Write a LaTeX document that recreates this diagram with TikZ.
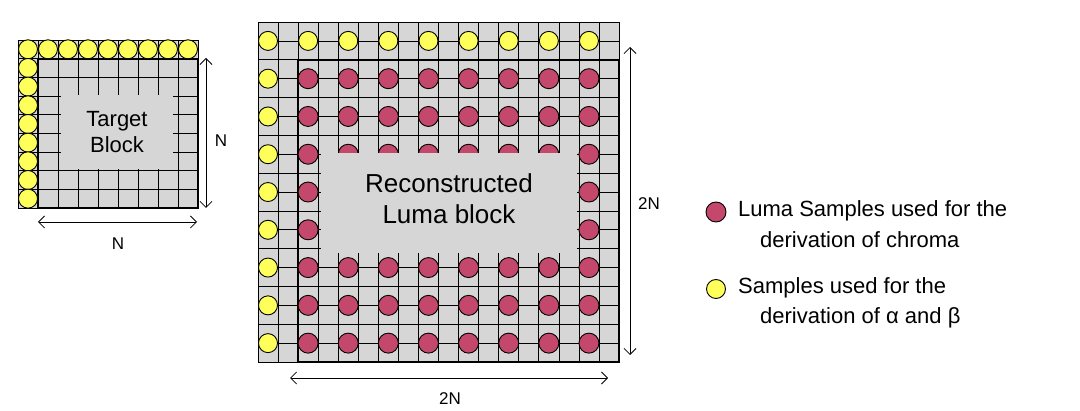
\documentclass[tikz,border=0pt]{standalone}
\usepackage{fontspec}
\setmainfont{Liberation Sans}
\definecolor{cellgray}{HTML}{D6D6D6}
\definecolor{yel}{HTML}{FFFF5C}
\definecolor{mag}{HTML}{C4476C}
\begin{document}
\begin{tikzpicture}[x=1pt,y=-1pt,
  ys/.style={circle,draw=black,line width=0.9pt,fill=yel,minimum size=19pt,inner sep=0pt},
  ms/.style={circle,draw=black,line width=0.9pt,fill=mag,minimum size=20pt,inner sep=0pt},
  gl/.style={line width=0.7pt},
  thick border/.style={line width=2.2pt},
  lab/.style={font=\fontsize{22}{26}\selectfont,align=center,inner sep=0pt},
  arr/.style={<->,line width=0.8pt,>={Straight Barb[length=6pt,width=12pt]}},
  dim/.style={font=\fontsize{17}{20}\selectfont,inner sep=0pt}]
\usetikzlibrary{arrows.meta}
\useasboundingbox (0,0) rectangle (1080,411);
% ---------- left block ----------
\fill[cellgray] (18,40) rectangle (198,208);
\foreach \i in {0,...,9} \draw[gl] (18+20*\i,40) -- (18+20*\i,208);
\foreach \j in {0,...,9} \draw[gl] (18,40+18.67*\j) -- (198,40+18.67*\j);
\node[fill=cellgray,minimum width=112pt,minimum height=74pt,inner sep=0pt] (tbox) at (117,132) {};
\node[lab] (tlab) at (117,132) {Target\\Block};
\draw[thick border] (38,58.7) rectangle (198,208);
\foreach \k in {0,...,8} \node[ys] (lt\k) at (28+20*\k,49.3) {};
\foreach \k in {1,...,8} \node[ys] (ll\k) at (28,49.3+18.67*\k) {};
\coordinate (lv1) at (206,58); \coordinate (lv2) at (206,208);
\draw[arr] (lv1) -- (lv2);
\node[dim] (ln1) at (221,141) {N};
\coordinate (lh1) at (38,222); \coordinate (lh2) at (197,222);
\draw[arr] (lh1) -- (lh2);
\node[dim] (ln2) at (118,244) {N};
% ---------- right block ----------
\fill[cellgray] (258,22) rectangle (619,362);
\foreach \i in {0,...,18} \draw[gl] (258+20.06*\i,22) -- (258+20.06*\i,362);
\foreach \j in {0,...,18} \draw[gl] (258,22+18.89*\j) -- (619,22+18.89*\j);
\draw[thick border] (298,59.8) rectangle (619,362);
\foreach \r in {1,...,8}
  \foreach \c in {1,...,8}
    \node[ms] (m\r-\c) at (268+40.12*\c,40.9+37.78*\r) {};
\node[fill=cellgray,minimum width=256pt,minimum height=100pt,inner sep=0pt] (rbox) at (449,203) {};
\node[lab,font=\fontsize{26}{31}\selectfont] (rlab) at (449,199) {Reconstructed\\Luma block};
\foreach \c in {0,...,8} \node[ys] (rt\c) at (268+40.12*\c,40.9) {};
\foreach \r in {1,...,8} \node[ys] (rl\r) at (268,40.9+37.78*\r) {};
\coordinate (rv1) at (630,47); \coordinate (rv2) at (630,355);
\draw[arr] (rv1) -- (rv2);
\node[dim] (rn1) at (649,204) {2N};
\coordinate (rh1) at (290,378); \coordinate (rh2) at (608,378);
\draw[arr] (rh1) -- (rh2);
\node[dim] (rn2) at (450,399) {2N};
% ---------- legend ----------
\node[ms] (lgm) at (716,212) {};
\node[lab,anchor=west,align=left] (lgm1) at (738,211) {Luma Samples used for the};
\node[lab,anchor=west,align=left] (lgm2) at (760,240) {derivation of chroma};
\node[ys] (lgy) at (716,289) {};
\node[lab,anchor=west,align=left] (lgy1) at (738,288) {Samples used for the};
\node[lab,anchor=west,align=left] (lgy2) at (760,318) {derivation of α and β};
\end{tikzpicture}
\end{document}
